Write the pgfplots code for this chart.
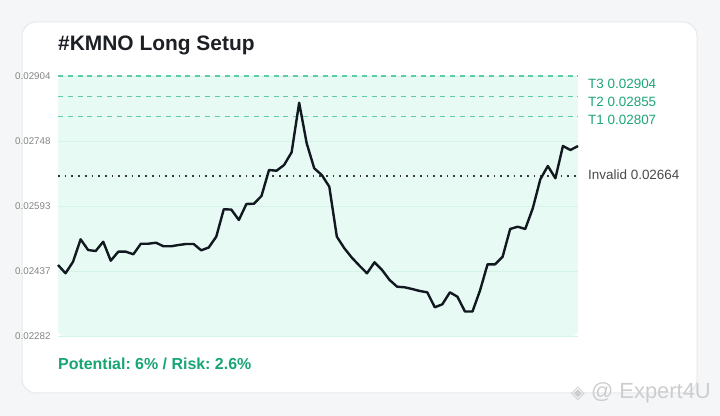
\documentclass[border=0pt]{standalone}
\usepackage{fontspec}
\setmainfont{Liberation Sans}
\newfontfamily\dejavu{DejaVu Sans}
\usepackage{pgfplots}
\pgfplotsset{compat=1.18}
\frenchspacing
\definecolor{bgout}{HTML}{F4F6F8}
\definecolor{cardedge}{HTML}{E6E8EB}
\definecolor{mint}{HTML}{E7FAF3}
\definecolor{gridc}{HTML}{D6F3E8}
\definecolor{tealdash}{HTML}{5CCBA8}
\definecolor{tealtext}{HTML}{1EA57A}
\definecolor{greentext}{HTML}{17A673}
\definecolor{pricec}{HTML}{111820}
\definecolor{titlec}{HTML}{1C1F24}
\definecolor{tickc}{HTML}{858585}
\definecolor{invc}{HTML}{3A3A3A}
\definecolor{invtext}{HTML}{4A4A4A}
\definecolor{wm}{HTML}{CDCDCD}
\begin{document}
\begin{tikzpicture}
\fill[bgout] (0,0) rectangle (720bp,416bp);
\draw[cardedge, fill=white, line width=1bp, rounded corners=14bp] (22bp,23bp) rectangle (697bp,394bp);
\begin{axis}[
  at={(58bp,80bp)}, anchor=south west,
  scale only axis, width=520bp, height=260bp,
  xmin=0, xmax=69, ymin=0.02282, ymax=0.02904,
  clip=false,
  scaled y ticks=false,
  axis line style={draw=none},
  major tick length=0pt,
  xtick=\empty,
  ytick={0.02282,0.02437,0.02593,0.02748,0.02904},
  yticklabels={0.02282,0.02437,0.02593,0.02748,0.02904},
  yticklabel style={font=\fontsize{9.8}{11}\selectfont, text=tickc, anchor=east, xshift=-4bp},
  ymajorgrids,
  grid style={draw=gridc, line width=0.8bp},
  axis background/.style={fill=mint, rounded corners=6bp},
]
\addplot[tealdash, line width=1.1bp, dash pattern=on 5bp off 4.8bp] coordinates {(0,0.02904) (69,0.02904)};
\addplot[tealdash, line width=1.1bp, dash pattern=on 5bp off 4.8bp] coordinates {(0,0.02855) (69,0.02855)};
\addplot[tealdash, line width=1.1bp, dash pattern=on 5bp off 4.8bp] coordinates {(0,0.02807) (69,0.02807)};
\addplot[invc, line width=1.7bp, dash pattern=on 1.7bp off 5bp] coordinates {(0,0.02664) (69,0.02664)};
\addplot[pricec, line width=2.4bp, line join=round] table[x=i, y=v] {
i v
0 0.024519
1 0.024320
2 0.024598
3 0.025133
4 0.024877
5 0.024853
6 0.025076
7 0.024621
8 0.024837
9 0.024837
10 0.024775
11 0.025028
12 0.025028
13 0.025052
14 0.024966
15 0.024966
16 0.024997
17 0.025021
18 0.025021
19 0.024870
20 0.024937
21 0.025196
22 0.025853
23 0.025844
24 0.025595
25 0.025978
26 0.025985
27 0.026169
28 0.026791
29 0.026774
30 0.026911
31 0.027215
32 0.028401
33 0.027430
34 0.026832
35 0.026672
36 0.026392
37 0.025196
38 0.024918
39 0.024693
40 0.024502
41 0.024320
42 0.024583
43 0.024399
44 0.024160
45 0.023999
46 0.023985
47 0.023944
48 0.023897
49 0.023865
50 0.023507
51 0.023578
52 0.023865
53 0.023760
54 0.023406
55 0.023406
56 0.023909
57 0.024535
58 0.024535
59 0.024717
60 0.025380
61 0.025435
62 0.025380
63 0.025875
64 0.026569
65 0.026887
66 0.026593
67 0.027365
68 0.027270
69 0.027365
};
\node[anchor=west, text=tealtext, font=\fontsize{13.5}{15}\selectfont, inner sep=0pt] at (axis cs:69,0.028849) [xshift=10bp] {T3 0.02904};
\node[anchor=west, text=tealtext, font=\fontsize{13.5}{15}\selectfont, inner sep=0pt] at (axis cs:69,0.028411) [xshift=10bp] {T2 0.02855};
\node[anchor=west, text=tealtext, font=\fontsize{13.5}{15}\selectfont, inner sep=0pt] at (axis cs:69,0.027987) [xshift=10bp] {T1 0.02807};
\node[anchor=west, text=invtext, font=\fontsize{13.5}{15}\selectfont, inner sep=0pt] at (axis cs:69,0.026672) [xshift=10bp] {Invalid 0.02664};
\end{axis}
\node[anchor=west, inner sep=0pt, text=titlec, font=\fontsize{21}{24}\selectfont\bfseries] at (58bp,371bp) {\#KMNO Long Setup};
\node[anchor=west, inner sep=0pt, text=greentext, font=\fontsize{16}{18}\selectfont\bfseries] at (58bp,52bp) {Potential: 6\% / Risk: 2.6\%};
\node[anchor=east, inner sep=0pt, text=wm, font=\fontsize{22}{24}\selectfont] at (711bp,23bp) {{\dejavu\fontsize{18}{20}\selectfont ◈} @ Expert4U};
\end{tikzpicture}
\end{document}
